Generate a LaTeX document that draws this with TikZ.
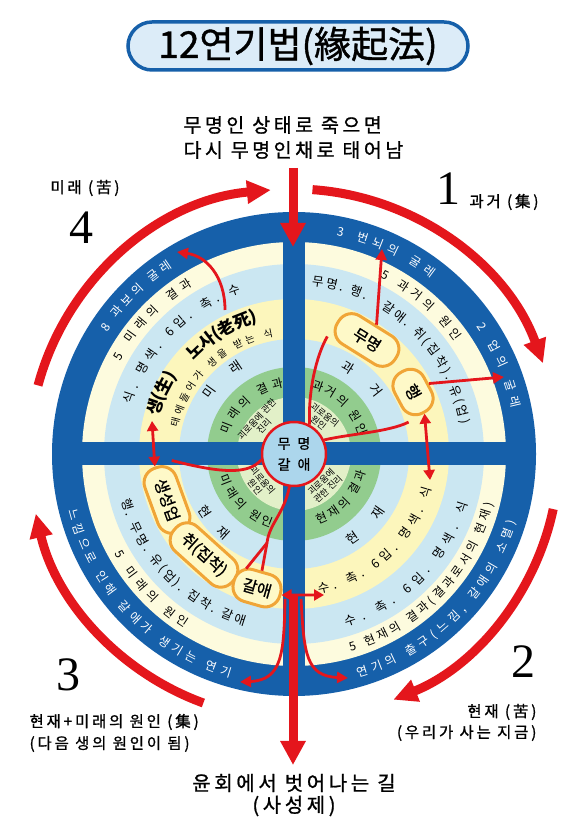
\documentclass[tikz,border=0pt]{standalone}
\usepackage{fontspec}
\newfontfamily\kf{Noto Sans CJK KR}
\newfontfamily\kfm{Noto Sans CJK KR}[FakeBold=1]
\newfontfamily\kfw{Noto Sans CJK KR}[LetterSpace=18,FakeBold=1]
\newfontfamily\numf{Liberation Serif}
\usetikzlibrary{arrows.meta,decorations.text}
\definecolor{dblue}{RGB}{22,96,170}
\definecolor{lyel}{RGB}{253,251,222}
\definecolor{lblue}{RGB}{203,231,242}
\definecolor{yel}{RGB}{252,246,188}
\definecolor{grn}{RGB}{146,204,142}
\definecolor{pale}{RGB}{226,240,200}
\definecolor{cblue}{RGB}{172,214,236}
\definecolor{rred}{RGB}{228,22,28}
\definecolor{orng}{RGB}{240,165,55}
\definecolor{pill}{RGB}{254,249,200}
\definecolor{tbox}{RGB}{220,236,248}
\newcommand\fsz[1]{\fontsize{#1}{#1}\selectfont}
\newcommand\rt[6]{\path[decorate,decoration={text along path,text={|#4|#6},text align=fit to path,raise=#5pt}] (#2:#1) arc[start angle=#2,end angle=#3,radius=#1];}
\newcommand\rtc[6]{\path[decorate,decoration={text along path,text={|#4|#6},text align=center,raise=#5pt}] (#2:#1) arc[start angle=#2,end angle=#3,radius=#1];}
\tikzset{
  redln/.style={draw=rred, line width=2.8pt},
  redarr/.style={redln, -{Triangle[width=11pt,length=11pt]}},
  redboth/.style={redln, {Triangle[width=11pt,length=10pt]}-{Triangle[width=11pt,length=10pt]}},
  bigarr/.style={draw=rred, line width=9pt, -{Triangle[width=24pt,length=24pt]}},
  ringarr/.style={draw=rred, line width=9pt, -{Triangle[width=22pt,length=24pt]}},
  pillbox/.style={draw=orng, line width=3pt, fill=pill, rounded corners=15pt, minimum height=33pt, inner xsep=4pt, inner ysep=2pt, font=\kfm\fsz{16}},
  lab/.style={font=\kfw\fsz{15.5}},
  numlab/.style={font=\numf\fsz{48}},
  ringsm/.style={font=\kf\fontsize{9}{10}\selectfont, align=center},
  ringmd/.style={font=\kf\fsz{13}}
}
\begin{document}
\begin{tikzpicture}[x=1pt,y=1pt]
\useasboundingbox (0,0) rectangle (584,832);
\fill[white] (0,0) rectangle (584,832);
% title
\node[draw=dblue, line width=3.5pt, fill=tbox, rounded corners=24pt, minimum width=340pt, minimum height=48pt, font=\kfm\fsz{37}] (title) at (298,786) {12연기법(緣起法)};
\node[anchor=west, font=\kfw\fsz{19.5}] (t1) at (180,707) {무명인 상태로 죽으면};
\node[anchor=west, font=\kfw\fsz{19.5}] (t2) at (180,682) {다시 무명인채로 태어남};
% corner labels
\node[lab] (l4) at (85,644) {미래 (苦)};
\node[numlab] (n4) at (81,604) {4};
\node[numlab] (n1) at (448,643) {1};
\node[lab] (l1) at (504,630) {과거 (集)};
\node[numlab] (n3) at (68,157) {3};
\node[lab, anchor=west] (l3a) at (26,110) {현재+미래의 원인 (集)};
\node[lab, anchor=west] (l3b) at (26,88) {(다음 생의 원인이 됨)};
\node[numlab] (n2) at (523,170) {2};
\node[lab, anchor=east] (l2a) at (540,120) {현재 (苦)};
\node[lab, anchor=east] (l2b) at (540,99) {(우리가 사는 지금)};
\node[font=\kfw\fsz{20}] (b1) at (294,49) {윤회에서 벗어나는 길};
\node[font=\kfw\fsz{20}] (b2) at (294,26) {(사성제)};
\begin{scope}[shift={(294,378)}]
 % rings
 \fill[dblue] (0,0) circle (242);
 \fill[lyel] (0,0) circle (212);
 \fill[lblue] (0,0) circle (190);
 \fill[yel] (0,0) circle (155);
 \fill[lblue] (0,0) circle (115);
 \fill[grn] (0,0) circle (87);
 \fill[pale] (0,0) circle (57);
 \fill[dblue] (-11,-214) rectangle (11,214);
 \fill[dblue] (-214,-11.5) rectangle (214,11.5);
 % outer ring arrows
 \draw[ringarr] (165:265) arc[start angle=165, end angle=95, radius=265];
 \draw[ringarr] (86:265) arc[start angle=86, end angle=20, radius=265];
 \draw[ringarr] (-12:265) arc[start angle=-12, end angle=-68, radius=265];
 \draw[ringarr] (250:265) arc[start angle=250, end angle=193, radius=265];
 % ring texts, upper half
 \rt{227}{147}{123}{\kf\fsz{12}\color{white}}{-4.3}{8 과보의 굴레}
 \rt{227}{79}{52}{\kf\fsz{12}\color{white}}{-4.3}{3 번뇌의 굴레}
 \rt{227}{35}{12}{\kf\fsz{12}\color{white}}{-4.3}{2 업의 굴레}
 \rt{201}{152}{121}{\kf\fsz{12}}{-4.3}{5 미래의 결과}
 \rt{201}{64}{35}{\kf\fsz{12}}{-4.3}{5 과거의 원인}
 \rt{174}{163}{108}{\kf\fsz{12.5}}{-4.5}{식. 명색. 6입. 촉. 수}
 \rt{174}{84}{65}{\kf\fsz{12.5}}{-4.5}{무명. 행.}
 \rt{174}{59}{10}{\kf\fsz{12.5}}{-4.5}{갈애. 취(집착). 유(업)}
 \rtc{147}{175}{136}{\kf\bfseries\fsz{17}}{-6.2}{생(生)}
 \rtc{143}{145}{97}{\kf\bfseries\fsz{17}}{-6.2}{노사(老死)}
 \rt{123}{167}{100}{\kf\fsz{10}}{-3.6}{태에들어가 생을 받는 식}
 \rt{72}{163}{99}{\kf\fsz{12}}{-4.3}{미래의 결과}
 \rt{72}{75}{16}{\kf\fsz{12}}{-4.3}{과거의 원인}
 % ring texts, lower half
 \rt{228}{194}{254}{\kf\fsz{12}\color{white}}{-4.3}{느낌으로 인해 갈애가 생기는 연기}
 \rt{228}{-74}{-17}{\kf\fsz{12}\color{white}}{-4.3}{연기의 출구(느낌, 갈애의 소멸)}
 \rt{201}{209}{238}{\kf\fsz{12}}{-4.3}{5 미래의 원인}
 \rt{201}{-74}{-14}{\kf\fsz{12}}{-4.3}{5 현재의 결과(결과로서의 현재)}
 \rt{174}{195}{254}{\kf\fsz{12.5}}{-4.5}{행. 무명. 유(업). 집착. 갈애}
 \rt{176}{-73}{-16}{\kf\fsz{12.5}}{-4.5}{수. 촉. 6입. 명색. 식}
 \rt{137}{-80}{-14}{\kf\fsz{12.5}}{-4.5}{수. 촉. 6입. 명색. 식}
 \rt{73}{197}{253}{\kf\fsz{12}}{-4.3}{미래의 원인}
 \rt{70}{-71}{-14}{\kf\fsz{12}}{-4.3}{현재의 결과}
 % spaced ring words
 \node[ringmd, rotate=54] (mi) at (144:105) {미};
 \node[ringmd, rotate=34] (rae) at (124:105) {래};
 \node[ringmd, rotate=-32] (gwa) at (58:102) {과};
 \node[ringmd, rotate=-52] (geo) at (38:104) {거};
 \node[ringmd, rotate=-57] (hy1) at (213:106) {현};
 \node[ringmd, rotate=-42] (ja1) at (228:106) {재};
 \node[ringmd, rotate=35] (hy2) at (-55:102) {현};
 \node[ringmd, rotate=55] (ja2) at (-35:102) {재};
 % small texts
 \node[ringsm, rotate=47] (s1) at (137:46) {괴로움에 관한\\진리};
 \node[ringsm, rotate=-38] (s2) at (52:45) {괴로움의\\원인};
 \node[ringsm, rotate=-50] (s3) at (220:46) {괴로움의\\원인};
 \node[ringsm, rotate=44] (s4) at (-46:44) {괴로움에\\관한 진리};
 % coordinates
 \coordinate (ta1) at (-1,286);
 \coordinate (ta2) at (-1,207);
 \coordinate (ba1) at (-1,-141);
 \coordinate (ba2) at (-1,-311);
 \coordinate (mmt) at (88,205);
 \coordinate (hgt) at (210,77);
 \coordinate (ns1) at (-69,144);
 \coordinate (ns2) at (-117,202);
 \coordinate (la1) at (-142,33);
 \coordinate (ra2) at (136,-26);
 \coordinate (ha) at (30,-141);
 \coordinate (jn) at (-27,-89);
 \coordinate (fr) at (54,-224);
 \coordinate (fl) at (-54,-228);
 % pills
 \node[pillbox, rotate=-32, minimum width=68pt] (mm) at (73,114) {무명};
 \node[pillbox, rotate=-62, minimum width=46pt] (hg) at (119,62) {행};
 \node[pillbox, rotate=-70, minimum width=68pt] (ss) at (-127,-46) {생성업};
 \node[pillbox, rotate=-42, minimum width=78pt] (cj) at (-90,-101) {취(집착)};
 \node[pillbox, rotate=-16, minimum width=48pt] (ga) at (-37,-134) {갈애};
 % center
 \node[circle, fill=cblue, draw=rred, line width=2.5pt, minimum size=64pt, inner sep=0pt, align=center, font=\kfm\fontsize{14}{21}\selectfont] (ctr) at (0,0) {무\hspace{7pt}명\\갈\hspace{7pt}애};
 % red connectors
 \draw[redln] (mm.south west) .. controls (22,98) and (14,62) .. (ctr.62);
 \draw[redln] (hg.south east) .. controls (95,22) and (55,20) .. (ctr.25);
 \draw[redln] (ctr.190) .. controls (-45,-20) and (-70,-20) .. (ss.north west);
 \draw[redln] (ctr.262) .. controls (-10,-60) and (-25,-70) .. (jn);
 \draw[redln] (jn) -- (cj.north east);
 \draw[redln] (jn) -- (ga.north);
 \draw[redarr] (mm.north) -- (mmt);
 \draw[redarr] (hg.north) -- (hgt);
 \draw[redarr] (ns1) .. controls (-69,178) and (-88,198) .. (ns2);
 \draw[redboth] (la1) -- (ss.west);
 \draw[redboth] (hg.east) -- (ra2);
 \draw[redboth] (ga.east) -- (ha);
 \draw[redarr] (ba1) ++(8,-4) .. controls (10,-200) and (12,-222) .. (fr);
 \draw[redarr] (ba1) ++(-8,-4) .. controls (-10,-200) and (-12,-226) .. (fl);
 \draw[bigarr] (ba1) -- (ba2);
 \draw[bigarr] (ta1) -- (ta2);
\end{scope}
\end{tikzpicture}
\end{document}
